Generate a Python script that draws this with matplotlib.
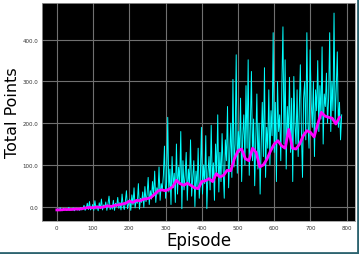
#!/usr/bin/env python3
"""Total points per episode with the running average on top."""

import matplotlib

matplotlib.use("Agg")
import matplotlib.pyplot as plt
from matplotlib.lines import Line2D
from matplotlib.ticker import FormatStrFormatter

# raw points, one value every 3 episodes (0, 3, ..., 786)
EPISODE_STEP = 3
total_points = [
    -8, -5, -9, -3, -7, -10, -4, -8, -6, -9,
    -7, -2, -9, -5, -8, -3, -10, -6, -4, -8,
    -6, -9, -2, -8, -5, 3, -9, -4, 8, -7,
    12, -8, -3, 5, -9, 14, -6, 2, -10, 9,
    -5, 18, -8, 4, -2, 11, -9, 6, 25, -7,
    3, -6, 15, -9, 8, 0, 22, -4, 10, -8,
    30, 2, -7, 12, 38, -5, 6, 18, -9, 28,
    4, 45, -3, 15, 8, 55, -6, 20, 10, 35,
    -2, 48, 12, 28, 70, 5, 38, 18, 60, 25,
    85, 10, 45, 30, 95, 15, 55, 40, 75, 145,
    20, 60, 214, 35, 90, 5, 120, 45, 80, 10,
    150, 30, 95, 60, 180, -5, 110, 40, 75, 130,
    15, 90, 55, 160, 25, 70, 110, 0, 85, 45,
    140, 20, 65, 190, 30, 100, 55, 170, -5, 80,
    120, 40, 195, 60, 105, 15, 150, 75, 220, 35,
    130, 60, 175, 90, 20, 160, 110, 240, 45, 120,
    200, 70, 305, 95, 150, 364, 80, 180, 130, 260,
    60, 170, 220, 100, 290, 140, 352, 75, 190, 324,
    110, 210, 50, 160, 270, 90, 200, 30, 150, 250,
    120, 333, 70, 190, 140, 280, 100, 230, 170, 417,
    130, 250, 60, 300, 180, 220, 110, 290, 431, 150,
    352, 90, 240, 170, 310, 130, 260, 60, 312, 200,
    150, 280, 120, 230, 340, 180, 70, 260, 300, 160,
    417, 200, 140, 376, 250, 190, 300, 120, 280, 230,
    350, 180, 290, 210, 383, 150, 270, 240, 320, 200,
    260, 417, 180, 300, 230, 464, 200, 280, 371, 190,
    250, 160, 220,
]

# running average, one value every 10 episodes (0, 10, ..., 780)
AVG_STEP = 10
avg_points = [
    -8, -8, -7, -7, -7, -6, -6, -5, -3, -2,
    -3, -1, -2, -1, 2, 0, 3, 4, 6, 8,
    13, 10, 15, 14, 18, 19, 22, 30, 38, 40,
    38, 42, 48, 63, 55, 51, 56, 51, 45, 43,
    60, 62, 67, 60, 79, 71, 75, 87, 86, 115,
    134, 138, 115, 110, 140, 130, 95, 100, 114, 134,
    150, 158, 146, 140, 185, 140, 138, 150, 170, 182,
    178, 167, 198, 226, 217, 214, 212, 198, 214,
]

x_ticks = [0, 100, 200, 300, 400, 500, 600, 700, 800]
y_ticks = [0, 100, 200, 300, 400]


def main() -> None:
    episodes = [i * EPISODE_STEP for i in range(len(total_points))]
    avg_episodes = [i * AVG_STEP for i in range(len(avg_points))]

    fig = plt.figure(figsize=(3.59, 2.55), dpi=100)
    ax = fig.add_axes([0.118, 0.131, 0.871, 0.853])
    ax.set_facecolor("black")
    ax.set_axisbelow(True)
    ax.grid(True, color="#707070", linewidth=0.8)

    ax.plot(episodes, total_points, color="#00ffff", linewidth=0.7)
    ax.plot(avg_episodes, avg_points, color="#ff00ff", linewidth=2.0)

    ax.set_xlim(-40, 823)
    ax.set_ylim(-33.6, 488)
    ax.set_xticks(x_ticks)
    ax.set_yticks(y_ticks)
    ax.yaxis.set_major_formatter(FormatStrFormatter("%.1f"))
    ax.tick_params(length=0, labelsize=4, pad=3, colors="#333333")
    for spine in ax.spines.values():
        spine.set_color("#9a9a9a")
        spine.set_linewidth(0.6)

    ax.set_xlabel("Episode", fontsize=12, labelpad=1)
    ax.set_ylabel("Total Points", fontsize=11.5, labelpad=2)

    # window border left in the screenshot
    fig.add_artist(Line2D([0, 1], [0.004, 0.004], transform=fig.transFigure,
                          color="#2e6470", linewidth=2))
    fig.add_artist(Line2D([0.996, 0.996], [0, 1], transform=fig.transFigure,
                          color="#2e6470", linewidth=2))

    fig.savefig("out.png", dpi=100)
    plt.close(fig)


if __name__ == "__main__":
    main()
